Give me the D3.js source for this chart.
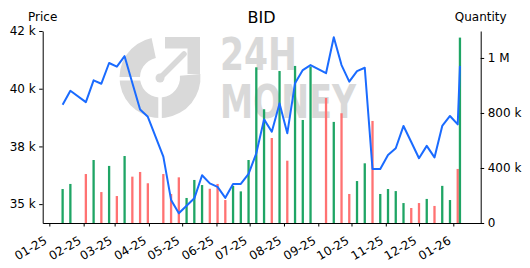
<!DOCTYPE html>
<html>
<head>
<meta charset="utf-8">
<script src="https://cdn.jsdelivr.net/npm/d3@7"></script>
<style>
    body { margin: 0; background: #fff; }
    svg text { font-family: "DejaVu Sans", sans-serif; }
    .axis text { font-size: 12px; fill: #000; font-family: "DejaVu Sans", sans-serif; }
    .axis path, .axis line { stroke: #000; stroke-width: 1; }
    .mark { fill: #d9d9d9; }
</style>
</head>
<body>
<div id="chart"></div>
<script>
var ticker = "BID";

// weekly points (monday of the week), last one is a single day
var weeks = ["2025-01-13", "2025-01-20", "2025-02-03", "2025-02-10", "2025-02-17", "2025-02-24",
    "2025-03-03", "2025-03-10", "2025-03-17", "2025-03-24", "2025-03-31", "2025-04-14",
    "2025-04-21", "2025-04-28", "2025-05-05", "2025-05-12", "2025-05-19", "2025-05-26",
    "2025-06-02", "2025-06-09", "2025-06-16", "2025-06-23", "2025-06-30", "2025-07-07",
    "2025-07-14", "2025-07-21", "2025-07-28", "2025-08-04", "2025-08-11", "2025-08-18",
    "2025-08-25", "2025-09-08", "2025-09-15", "2025-09-22", "2025-09-29", "2025-10-06",
    "2025-10-13", "2025-10-20", "2025-10-27", "2025-11-03", "2025-11-10", "2025-11-17",
    "2025-11-24", "2025-12-01", "2025-12-08", "2025-12-15", "2025-12-22", "2025-12-29",
    "2026-01-05", "2026-01-07"];

var closePrice = [39190, 39720, 39290, 40120, 39990, 40780,
    40640, 41040, 40020, 39010, 38730, 37210,
    35560, 35050, 35340, 35620, 36500, 36190,
    36060, 35640, 36170, 36170, 36550, 37340,
    38630, 38160, 39240, 38100, 40010, 40510,
    40700, 40390, 41760, 40700, 40070, 40470,
    40600, 36740, 36740, 37270, 37530, 38380,
    37770, 37150, 37620, 37180, 38380, 38760,
    38440, 40670];

var quantity = [247000, 284000, 356000, 458000, 225000, 415000,
    196000, 487000, 337000, 371000, 289000, 356000,
    211000, 332000, 182000, 313000, 276000, 249000,
    284000, 167000, 269000, 230000, 458000, 1132000,
    827000, 618000, 1105000, 453000, 1142000, 749000,
    1137000, 909000, 735000, 798000, 211000, 305000,
    434000, 742000, 211000, 247000, 232000, 145000,
    109000, 145000, 175000, 124000, 270000, 167000,
    393000, 1348000];

// 1 = week closed up, 0 = down
var upWeek = [1, 1, 0, 1, 0, 1,
    0, 1, 0, 0, 0, 0,
    0, 0, 1, 1, 1, 0,
    0, 0, 1, 1, 1, 1,
    1, 0, 1, 0, 1, 1,
    1, 0, 1, 0, 0, 1,
    1, 0, 1, 1, 1, 1,
    0, 0, 1, 0, 1, 1,
    0, 1];

var priceTicks = [35400, 37600, 39800, 42000];
var priceDomain = [34680, 42000];
var qtyTicks = [0, 400000, 800000, 1200000];
var qtyDomain = [0, 1396000];
var dateDomain = ["2024-12-26", "2026-01-25T18:00"];

(function () {
    var width = 530, height = 268;
    var plotLeft = 42.7, plotRight = 480.7, plotTop = 31, plotBottom = 223;

    var parse = function (s) { return new Date(s + (s.length > 10 ? "Z" : "T00:00Z")); };

    var data = weeks.map(function (w, i) {
        return { date: parse(w), price: closePrice[i], qty: quantity[i], up: upWeek[i] };
    });

    var xScale = d3.scaleUtc()
        .domain(dateDomain.map(parse))
        .range([plotLeft, plotRight]);

    var yPrice = d3.scaleLinear()
        .domain(priceDomain)
        .range([plotBottom, plotTop]);

    var yQty = d3.scaleLinear()
        .domain(qtyDomain)
        .range([plotBottom, plotTop]);

    // rounded "k" / "M" labels
    var kFormat = function (v) {
        if (v === 0) return "0";
        if (v >= 1e6) return Math.round(v / 1e6) + " M";
        return Math.round(v / 1e3) + " k";
    };

    var svg = d3.select("#chart")
        .append("svg")
        .attr("width", width)
        .attr("height", height);

    //Watermark logo
    var wm = svg.append("g").attr("class", "watermark");
    wm.append("path")
        .attr("class", "mark")
        .attr("transform", "translate(160,77.5)")
        .attr("d", d3.arc()
            .innerRadius(20)
            .outerRadius(40.5)
            .startAngle(85 * Math.PI / 180)
            .endAngle(348 * Math.PI / 180)());
    wm.append("rect").attr("class", "mark").attr("x", 165).attr("y", 37).attr("width", 35).attr("height", 11.5);
    wm.append("rect").attr("class", "mark").attr("x", 187.5).attr("y", 37).attr("width", 12.5).attr("height", 37);
    wm.append("line")
        .attr("x1", 160).attr("y1", 78).attr("x2", 184).attr("y2", 54)
        .attr("stroke", "#d9d9d9").attr("stroke-width", 5.5).attr("stroke-linecap", "round");
    wm.append("circle").attr("class", "mark").attr("cx", 160).attr("cy", 78).attr("r", 4.5);
    wm.append("rect").attr("x", 117).attr("y", 77).attr("width", 25).attr("height", 3.5).attr("fill", "#fff");
    wm.append("rect").attr("x", 158.3).attr("y", 96).attr("width", 3.5).attr("height", 25).attr("fill", "#fff");
    wm.append("text")
        .attr("class", "mark")
        .attr("x", 220).attr("y", 70)
        .attr("textLength", 77).attr("lengthAdjust", "spacingAndGlyphs")
        .style("font-size", "44px").style("font-weight", "bold")
        .text("24H");
    wm.append("text")
        .attr("class", "mark")
        .attr("x", 220).attr("y", 118)
        .attr("textLength", 136).attr("lengthAdjust", "spacingAndGlyphs")
        .style("font-size", "46px").style("font-weight", "bold")
        .text("MONEY");

    //Quantity bars
    svg.selectAll(".bar")
        .data(data)
        .enter().append("rect")
        .attr("class", "bar")
        .attr("x", function (d) { return xScale(d.date) - 1.15; })
        .attr("y", function (d) { return yQty(d.qty); })
        .attr("width", 2.3)
        .attr("height", function (d) { return plotBottom - yQty(d.qty); })
        .attr("fill", function (d) { return d.up ? "#1fa565" : "#ff7272"; });

    //Price line
    svg.append("path")
        .datum(data)
        .attr("fill", "none")
        .attr("stroke", "#1a6bff")
        .attr("stroke-width", 2)
        .attr("stroke-linejoin", "round")
        .attr("d", d3.line()
            .x(function (d) { return xScale(d.date); })
            .y(function (d) { return yPrice(d.price); }));

    //X axis
    var xAxis = svg.append("g")
        .attr("class", "axis")
        .attr("transform", "translate(0," + plotBottom + ")")
        .call(d3.axisBottom(xScale)
            .tickValues(d3.utcMonth.range(new Date(Date.UTC(2025, 0, 1)), new Date(Date.UTC(2026, 0, 2))))
            .tickFormat(d3.utcFormat("%m-%y"))
            .tickSize(3.5)
            .tickSizeOuter(0));
    xAxis.selectAll("text")
        .attr("x", 0).attr("y", 0).attr("dy", 0)
        .attr("transform", "translate(-2,20) rotate(-30)")
        .style("text-anchor", "end");

    //Left axis
    svg.append("g")
        .attr("class", "axis")
        .attr("transform", "translate(" + plotLeft + ",0)")
        .call(d3.axisLeft(yPrice)
            .tickValues(priceTicks)
            .tickFormat(kFormat)
            .tickSize(3.5)
            .tickPadding(3.5)
            .tickSizeOuter(0));

    //Right axis
    svg.append("g")
        .attr("class", "axis")
        .attr("transform", "translate(" + plotRight + ",0)")
        .call(d3.axisRight(yQty)
            .tickValues(qtyTicks)
            .tickFormat(kFormat)
            .tickSize(3.5)
            .tickPadding(3.5)
            .tickSizeOuter(0));

    //Titles
    svg.append("text")
        .attr("x", 261.5).attr("y", 22.5)
        .attr("text-anchor", "middle")
        .style("font-size", "16px")
        .text(ticker);
    svg.append("text")
        .attr("x", plotLeft).attr("y", 20.7)
        .attr("text-anchor", "middle")
        .style("font-size", "12px")
        .text("Price");
    svg.append("text")
        .attr("x", plotRight).attr("y", 20.7)
        .attr("text-anchor", "middle")
        .style("font-size", "12px")
        .text("Quantity");
})();
</script>
</body>
</html>
